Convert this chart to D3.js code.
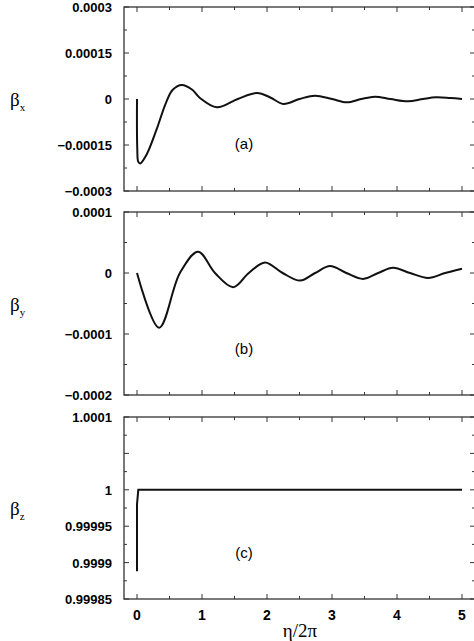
<!DOCTYPE html>
<html><head><meta charset="utf-8">
<script src="https://cdn.jsdelivr.net/npm/d3@7"></script>
<style>body{margin:0;background:#fff}</style>
</head><body>
<svg id="chart" width="474" height="641"></svg>
<script>
'use strict';

const bxX = [0, 0.004, 0.02, 0.05, 0.15, 0.3, 0.45, 0.55, 0.69, 0.85, 0.96, 1.23, 1.55, 1.85, 2.05, 2.25, 2.5, 2.74, 3.0, 3.23, 3.45, 3.66, 3.9, 4.17, 4.4, 4.6, 4.82, 5];
const bxY = [0, -0.00016, -0.000205, -0.00021, -0.00018, -0.0001, -0.00001, 0.00003, 0.0000457, 0.00003, 0.000005, -0.000027, 0, 0.0000196, 0.000005, -0.000016, 0, 0.000011, 0, -0.000011, 0, 0.0000076, 0, -0.0000076, 0, 0.0000054, 0.000003, 0];
const byX = [0, 0.34, 0.66, 0.94, 1.2, 1.48, 1.72, 1.97, 2.24, 2.51, 2.74, 2.97, 3.22, 3.48, 3.71, 3.94, 4.2, 4.48, 4.74, 5];
const byY = [0, -0.0000897, 0, 0.000035, 0, -0.0000232, 0, 0.0000173, 0, -0.0000124, 0, 0.0000114, 0, -0.0000097, 0, 0.0000086, 0, -0.0000081, 0, 0.000007];
const bzX = [0, 0, 0.02, 5];
const bzY = [0.999888, 0.99998, 1, 1];

const xTicks = [0, 1, 2, 3, 4, 5];
const panels = [
  {name: 'x', tag: '(a)', xs: bxX, ys: bxY, dom: [-0.0003, 0.0003], ticks: [-0.0003, -0.00015, 0, 0.00015, 0.0003], labels: ['\u22120.0003', '\u22120.00015', '0', '0.00015', '0.0003'], top: 7, bottom: 191, curve: d3.curveCatmullRom.alpha(0.5)},
  {name: 'y', tag: '(b)', xs: byX, ys: byY, dom: [-0.0002, 0.0001], ticks: [-0.0002, -0.0001, 0, 0.0001], labels: ['\u22120.0002', '\u22120.0001', '0', '0.0001'], top: 212, bottom: 395, curve: d3.curveCatmullRom.alpha(0.5)},
  {name: 'z', tag: '(c)', xs: bzX, ys: bzY, dom: [0.99985, 1.0001], ticks: [0.99985, 0.9999, 0.99995, 1, 1.0001], labels: ['0.99985', '0.9999', '0.99995', '1', '1.0001'], top: 417, bottom: 599, curve: d3.curveLinear},
];

const svg = d3.select('#chart');
const left = 124, right = 475;
const x = d3.scaleLinear().domain([-0.2, 5.2]).range([left, right]);
const minorX = d3.range(0, 5.01, 0.5);

panels.forEach((p) => {
  const y = d3.scaleLinear().domain(p.dom).range([p.bottom, p.top]);
  const g = svg.append('g');
  const step = p.ticks[1] - p.ticks[0];
  const minorY = d3.range(p.dom[0], p.dom[1] + step / 4, step / 2);

  // frame
  g.append('rect').attr('x', left).attr('y', p.top)
    .attr('width', right - left).attr('height', p.bottom - p.top)
    .attr('fill', 'none').attr('stroke', '#333').attr('stroke-width', 1.3);

  // inward ticks
  minorX.forEach((v, i) => {
    const len = i % 2 === 0 ? 5 : 3;
    g.append('line').attr('x1', x(v)).attr('x2', x(v)).attr('y1', p.bottom).attr('y2', p.bottom - len).attr('stroke', '#333');
    g.append('line').attr('x1', x(v)).attr('x2', x(v)).attr('y1', p.top).attr('y2', p.top + len).attr('stroke', '#333');
  });
  minorY.forEach((v, i) => {
    const len = i % 2 === 0 ? 5 : 3;
    g.append('line').attr('x1', left).attr('x2', left + len).attr('y1', y(v)).attr('y2', y(v)).attr('stroke', '#333');
    g.append('line').attr('x1', right).attr('x2', right - len).attr('y1', y(v)).attr('y2', y(v)).attr('stroke', '#333');
  });

  p.ticks.forEach((v, i) => {
    g.append('text').attr('x', 112).attr('y', y(v) + 5)
      .attr('text-anchor', 'end').attr('font-family', 'Liberation Sans, Arial, sans-serif')
      .attr('font-weight', 'bold').attr('font-size', 13).text(p.labels[i]);
  });

  const line = d3.line().x((d) => x(d[0])).y((d) => y(d[1])).curve(p.curve);
  g.append('path').datum(d3.zip(p.xs, p.ys)).attr('d', line)
    .attr('fill', 'none').attr('stroke', '#111').attr('stroke-width', 2);

  const lab = g.append('text').attr('x', 10).attr('y', (p.top + p.bottom) / 2 + 7)
    .attr('font-family', 'Liberation Serif, serif').attr('font-size', 19);
  lab.append('tspan').text('\u03b2');
  lab.append('tspan').attr('font-size', 11).attr('dy', 5).text(p.name);

  g.append('text').attr('x', 244).attr('y', (p.top + p.bottom) / 2 + 50)
    .attr('text-anchor', 'middle').attr('font-family', 'Liberation Sans, Arial, sans-serif')
    .attr('font-size', 15).text(p.tag);
});

xTicks.forEach((v) => {
  svg.append('text').attr('x', x(v)).attr('y', 620).attr('text-anchor', 'middle')
    .attr('font-family', 'Liberation Sans, Arial, sans-serif').attr('font-weight', 'bold')
    .attr('font-size', 14).text(v);
});
svg.append('text').attr('x', 300).attr('y', 637).attr('text-anchor', 'middle')
  .attr('font-family', 'Liberation Serif, serif').attr('font-size', 19).text('\u03b7/2\u03c0');
</script>
</body></html>
